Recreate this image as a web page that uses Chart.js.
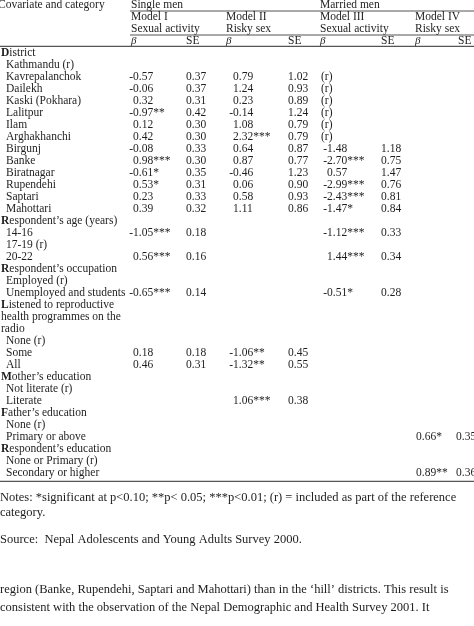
<!DOCTYPE html>
<html><head><meta charset="utf-8">
<script src="https://cdn.jsdelivr.net/npm/chart.js@4"></script>
<style>html,body{margin:0;padding:0;background:#fff;overflow:hidden}#w{width:474px;height:626px}</style>
</head><body><div id="w"><canvas id="c"></canvas></div>
<script>
// Row labels (indent: 0 = group heading, 1 = category)
const rowLabels = ["District","Kathmandu (r)","Kavrepalanchok","Dailekh","Kaski (Pokhara)","Lalitpur","Ilam","Arghakhanchi","Birgunj","Banke","Biratnagar","Rupendehi","Saptari","Mahottari",
"Respondent’s age (years)","14-16","17-19 (r)","20-22",
"Respondent’s occupation","Employed (r)","Unemployed and students",
"Listened to reproductive","health programmes on the","radio","None (r)","Some","All",
"Mother’s education","Not literate (r)","Literate",
"Father’s education","None (r)","Primary or above",
"Respondent’s education","None or Primary (r)","Secondary or higher"];
const rowIndent = [0,1,1,1,1,1,1,1,1,1,1,1,1,1, 0,1,1,1, 0,1,1, 0,0,0,1,1,1, 0,1,1, 0,1,1, 0,1,1];
const _ = null;
const m1Beta = [_,_,"-0.57","-0.06","0.32","-0.97**","0.12","0.42","-0.08","0.98***","-0.61*","0.53*","0.23","0.39", _,"-1.05***",_,"0.56***", _,_,"-0.65***", _,_,_,_,"0.18","0.46", _,_,_, _,_,_, _,_,_];
const m1SE   = [_,_,"0.37","0.37","0.31","0.42","0.30","0.30","0.33","0.30","0.35","0.31","0.33","0.32", _,"0.18",_,"0.16", _,_,"0.14", _,_,_,_,"0.18","0.31", _,_,_, _,_,_, _,_,_];
const m2Beta = [_,_,"0.79","1.24","0.23","-0.14","1.08","2.32***","0.64","0.87","-0.46","0.06","0.58","1.11", _,_,_,_, _,_,_, _,_,_,_,"-1.06**","-1.32**", _,_,"1.06***", _,_,_, _,_,_];
const m2SE   = [_,_,"1.02","0.93","0.89","1.24","0.79","0.79","0.87","0.77","1.23","0.90","0.93","0.86", _,_,_,_, _,_,_, _,_,_,_,"0.45","0.55", _,_,"0.38", _,_,_, _,_,_];
const m3Beta = [_,_,"(r)","(r)","(r)","(r)","(r)","(r)","-1.48","-2.70***","0.57","-2.99***","-2.43***","-1.47*", _,"-1.12***",_,"1.44***", _,_,"-0.51*", _,_,_,_,_,_, _,_,_, _,_,_, _,_,_];
const m3SE   = [_,_,_,_,_,_,_,_,"1.18","0.75","1.47","0.76","0.81","0.84", _,"0.33",_,"0.34", _,_,"0.28", _,_,_,_,_,_, _,_,_, _,_,_, _,_,_];
const m4Beta = [_,_,_,_,_,_,_,_,_,_,_,_,_,_, _,_,_,_, _,_,_, _,_,_,_,_,_, _,_,_, _,_,"0.66*", _,_,"0.89**"];
const m4SE   = [_,_,_,_,_,_,_,_,_,_,_,_,_,_, _,_,_,_, _,_,_, _,_,_,_,_,_, _,_,_, _,_,"0.35", _,_,"0.36"];
const groupHeads = ["Single men","Married men"];
const modelHeads = [["Model I","Sexual activity"],["Model II","Risky sex"],["Model III","Sexual activity"],["Model IV","Risky sex"]];
const noteLines = ["Notes: *significant at p<0.10; **p< 0.05; ***p<0.01; (r) = included as part of the reference","category."];
const sourceLine = "Source:  Nepal Adolescents and Young Adults Survey 2000.";
const bodyLines = ["region (Banke, Rupendehi, Saptari and Mahottari) than in the ‘hill’ districts. This result is","consistent with the observation of the Nepal Demographic and Health Survey 2001. It"];

// layout (x in px units of x-scale; y in row units)
const colX = [133,186,233,288,327,381,416,456];
const cols = [m1Beta,m1SE,m2Beta,m2SE,m3Beta,m3SE,m4Beta,m4SE];
const F = "Liberation Serif, serif", C = "#1e1e1e";

const pts = [];
cols.forEach((arr,ci)=>arr.forEach((v,ri)=>{ if(v!==null) pts.push({x:colX[ci],y:ri,t:v}); }));

const textPlugin = {
  id:'tbl',
  afterDatasetsDraw(ch){
    const ctx=ch.ctx, X=ch.scales.x, Y=ch.scales.y;
    const px=v=>X.getPixelForValue(v), py=v=>Y.getPixelForValue(v);
    ctx.save(); ctx.fillStyle=C; ctx.textBaseline='middle'; ctx.font="11.5px "+F;
    const line=(x1,x2,yy,w)=>{ctx.strokeStyle='#555';ctx.lineWidth=w;ctx.beginPath();ctx.moveTo(px(x1),py(yy));ctx.lineTo(px(x2),py(yy));ctx.stroke();};
    // headers
    ctx.fillText("Covariate and category",px(-2),py(-4));
    ctx.fillText(groupHeads[0],px(131),py(-4)); ctx.fillText(groupHeads[1],px(320),py(-4));
    line(130,474,-3.5,1.2);
    const mx=[131,226,320,415];
    modelHeads.forEach((m,i)=>{ctx.fillText(m[0],px(mx[i]),py(-3));ctx.fillText(m[1],px(mx[i]),py(-2));});
    line(130,474,-1.5,1.2);
    const sx=[186,288,381,458];
    ctx.font="italic 11px "+F;
    mx.forEach(x=>ctx.fillText("β",px(x),py(-1)));
    ctx.font="11.5px "+F;
    sx.forEach(x=>ctx.fillText("SE",px(x),py(-1)));
    line(0,474,-0.55,1.2);
    // row labels
    rowLabels.forEach((l,i)=>{
      if(rowIndent[i]){ctx.font="11.5px "+F;ctx.fillText(l,px(6),py(i));}
      else { if(i===22||i===23){ctx.font="11.5px "+F;ctx.fillText(l,px(1),py(i));}
        else {ctx.font="bold 11.5px "+F;ctx.fillText(l[0],px(1),py(i));const w=ctx.measureText(l[0]).width;ctx.font="11.5px "+F;ctx.fillText(l.slice(1),px(1)+w,py(i));}}
    });
    ctx.font="11.5px "+F;
    // values through data points
    ch.getDatasetMeta(0).data.forEach((el,k)=>{
      const t=pts[k].t; let x=el.x;
      if(t[0]==='-') x-=ctx.measureText('-').width;
      if(t==='(r)') x-=6;
      ctx.fillText(t,x,el.y);
    });
    line(0,474,rowLabels.length-0.3,1.2);
    ctx.font="12.5px "+F;
    ctx.fillText(noteLines[0],px(0),py(37.1)); ctx.fillText(noteLines[1],px(0),py(38.3));
    ctx.fillText(sourceLine,px(0),py(40.6));
    ctx.fillText(bodyLines[0],px(0),py(44.7)); ctx.fillText(bodyLines[1],px(0),py(46.2));
    ctx.restore();
  }
};
new Chart(document.getElementById('c'),{
  type:'scatter',
  data:{datasets:[{data:pts,pointRadius:0,pointHoverRadius:0}]},
  options:{responsive:true,maintainAspectRatio:false,animation:false,
    layout:{padding:0},
    plugins:{legend:{display:false},tooltip:{enabled:false}},
    scales:{x:{type:'linear',min:0,max:474,display:false},
            y:{type:'linear',min:-53/12,max:-53/12+626/12,reverse:true,display:false}}},
  plugins:[textPlugin]
});
</script></body></html>
